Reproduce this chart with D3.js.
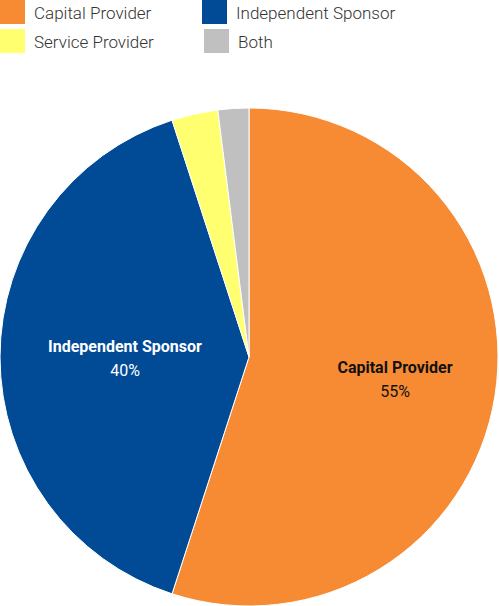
<!DOCTYPE html><html><head><meta charset="utf-8"><script src="https://cdn.jsdelivr.net/npm/d3@7"></script>
<style>body{margin:0;background:#fff}</style></head><body><svg id="c" width="499" height="606"></svg><script>
const categories=["Capital Provider","Independent Sponsor","Service Provider","Both"];
const values=[55,40,3,2];
const colors=["#F68B33","#004A96","#FFFF70","#C0C0C0"];
const svg=d3.select("#c");
const cx=249,cy=357,r=249;
const pie=d3.pie().sort(null).value(d=>d)(values);
const arc=d3.arc().innerRadius(0).outerRadius(r);
const g=svg.append("g").attr("transform",`translate(${cx},${cy})`);
g.selectAll("path").data(pie).join("path").attr("d",arc).attr("fill",(d,i)=>colors[i]).attr("stroke","#fff").attr("stroke-width",1);
const labels=[{i:0,x:395,y:373},{i:1,x:125,y:352}];
labels.forEach(l=>{
 const t=svg.append("text").attr("x",l.x).attr("y",l.y).attr("text-anchor","middle").attr("font-family","Roboto").attr("font-size",16).attr("fill","#111");
 t.append("tspan").attr("font-weight","bold").text(categories[l.i]);
 t.append("tspan").attr("x",l.x).attr("dy",24).text(values[l.i]+"%");
 if(l.i===1){t.attr("fill","#fff");}
});
const leg=[{x:0,y:0},{x:202,y:0},{x:0,y:29},{x:204,y:29}];
leg.forEach((p,i)=>{
 svg.append("rect").attr("x",p.x).attr("y",p.y).attr("width",25).attr("height",24).attr("fill",colors[i]);
 svg.append("text").attr("x",p.x+34).attr("y",p.y+19).attr("font-family","Roboto").attr("font-weight",300).attr("font-size",17).attr("fill","#333").text(categories[i]);
});
</script></body></html>
